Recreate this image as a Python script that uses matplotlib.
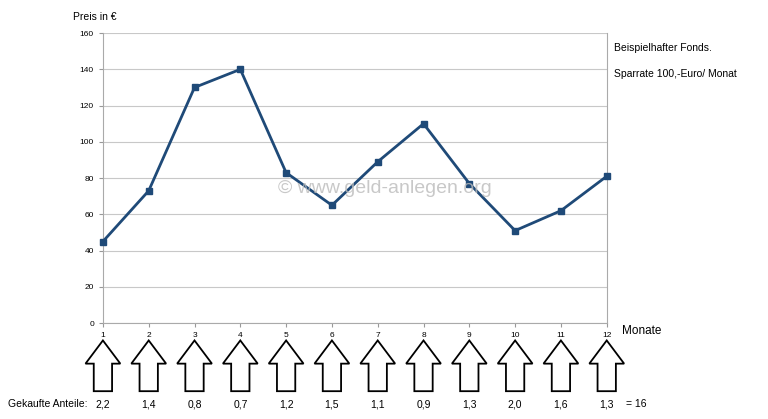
import matplotlib
matplotlib.use("Agg")
import matplotlib.pyplot as plt
from matplotlib.patches import Polygon

months = [1,2,3,4,5,6,7,8,9,10,11,12]
prices = [45,73,130,140,83,65,89,110,77,51,62,81]
shares = ["2,2","1,4","0,8","0,7","1,2","1,5","1,1","0,9","1,3","2,0","1,6","1,3"]
yticks = [0,20,40,60,80,100,120,140,160]

plt.rcParams['font.family'] = ['Liberation Sans', 'DejaVu Sans']
fig = plt.figure(figsize=(7.68,4.19), dpi=100)
ax = fig.add_axes([0.134,0.229,0.656,0.692])
ax.plot(months, prices, color='#1f4a78', lw=2, marker='s', ms=4.5, zorder=3, clip_on=False)
ax.set_xlim(1,12); ax.set_ylim(0,160)
ax.set_xticks(months); ax.set_yticks(yticks)
ax.tick_params(labelsize=6, length=3, color='#999999')
ax.grid(axis='y', color='#c8c8c8', lw=0.8)
ax.spines['top'].set_visible(False)
for s in ['left','bottom','right']:
    ax.spines[s].set_color('#aaaaaa')

tr = ax.get_xaxis_transform()
for m, sh in zip(months, shares):
    yb, yt, yh = -0.235, -0.06, -0.14
    sw, hw = 0.2, 0.38
    pts = [(m-sw,yb),(m+sw,yb),(m+sw,yh),(m+hw,yh),(m,yt),(m-hw,yh),(m-sw,yh)]
    ax.add_patch(Polygon(pts, closed=True, fill=False, ec='black', lw=1.3,
                         transform=tr, clip_on=False))
    ax.text(m, -0.28, sh, transform=tr, ha='center', va='center', fontsize=7.5)

fig.text(73/768, 1-17/419, "Preis in €", fontsize=7.5, va='center')
fig.text(614/768, 1-48/419, "Beispielhafter Fonds.", fontsize=7.5, va='center')
fig.text(614/768, 1-74/419, "Sparrate 100,-Euro/ Monat", fontsize=7.5, va='center')
fig.text(622/768, 1-331/419, "Monate", fontsize=8.5, va='center')
fig.text(8/768, 1-404/419, "Gekaufte Anteile:", fontsize=7.5, va='center')
fig.text(626/768, 1-404/419, "= 16", fontsize=7.5, va='center')
fig.text(385/768, 1-188/419, "© www.geld-anlegen.org", fontsize=14, color='#bbbbbb',
         ha='center', va='center', alpha=0.8, zorder=5)
fig.savefig("out.png", dpi=100)
